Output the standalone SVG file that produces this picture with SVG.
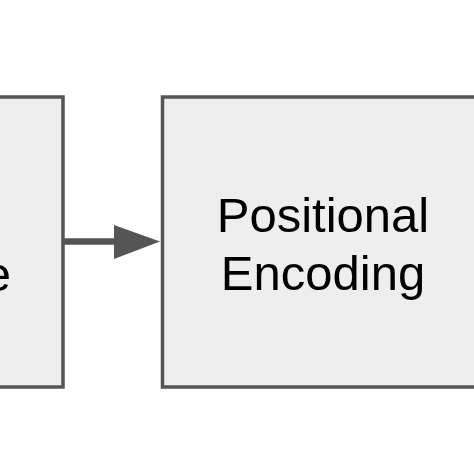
<svg xmlns="http://www.w3.org/2000/svg" width="474" height="474" viewBox="0 0 474 474">
<style>
.box{fill:#eeeeee;stroke:#555555;stroke-width:3.5}
.lbl{font-family:"Liberation Sans",Arial,sans-serif;font-size:49px;fill:#000000}
</style>
<rect width="474" height="474" fill="#ffffff"/>
<g id="node-left">
<rect class="box" x="-20" y="97" width="83" height="290"/>
<text class="lbl" x="11" y="291" text-anchor="end">e</text>
</g>
<g id="node-positional-encoding">
<rect class="box" x="162.5" y="97" width="330" height="290"/>
<text class="lbl" x="323" y="232" text-anchor="middle">Positional</text>
<text class="lbl" x="323" y="290" text-anchor="middle">Encoding</text>
</g>
<g id="connectors">
<line x1="64" y1="241.5" x2="116" y2="241.5" stroke="#555555" stroke-width="6.5"/>
<polygon points="114,225 160,241.5 114,259" fill="#555555"/>
</g>
</svg>
